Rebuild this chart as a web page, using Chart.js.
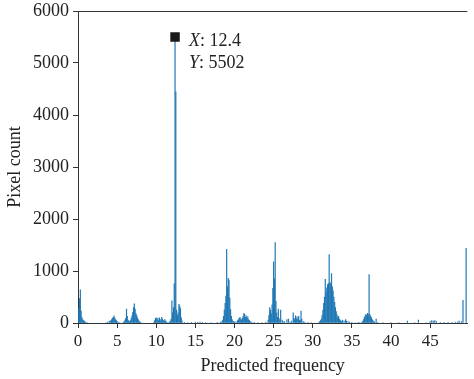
<!DOCTYPE html>
<html>
<head>
<meta charset="utf-8">
<script src="https://cdn.jsdelivr.net/npm/chart.js@4"></script>
<style>
  html, body { margin: 0; padding: 0; background: #fff; }
  #wrap { width: 474px; height: 379px; }
</style>
</head>
<body>
<div id="wrap"><canvas id="PixelHistogram"></canvas></div>
<script>
// Histogram bins (predicted frequency) and pixel counts
const freq = [
  0.0, 0.1, 0.2, 0.3, 0.4, 0.5, 0.6, 0.7, 0.8, 0.9, 1.0, 1.2,
  3.6, 3.8, 4.0, 4.1, 4.2, 4.3, 4.4, 4.5, 4.6, 4.7, 4.8, 4.9, 5.0, 5.1, 5.3,
  5.8, 5.9, 6.0, 6.1, 6.2, 6.3, 6.4, 6.5, 6.6, 6.7, 6.8, 6.9, 7.0, 7.1, 7.2, 7.3, 7.4, 7.5, 7.6, 7.7, 7.8, 7.9, 8.0,
  9.7, 9.8, 9.9, 10.0, 10.1, 10.2, 10.3, 10.4, 10.5, 10.6, 10.7, 10.8, 10.9, 11.0, 11.1, 11.2, 11.3, 11.5, 11.7,
  11.8, 11.9, 12.0, 12.1, 12.2, 12.3, 12.4, 12.5, 12.6, 12.7, 12.8, 12.9, 13.0, 13.1, 13.2, 13.3,
  13.6, 14.0, 14.5, 15.0, 15.3, 15.6, 15.9, 16.3, 17.0, 17.8, 18.2,
  18.4, 18.5, 18.6, 18.7, 18.8, 18.9, 19.0, 19.1, 19.2, 19.3, 19.4, 19.5, 19.6, 19.7, 19.8, 19.9, 20.0,
  20.2, 20.4, 20.5, 20.6, 20.7, 20.8, 20.9, 21.0, 21.1, 21.2, 21.3, 21.4, 21.5, 21.6, 21.7, 21.8, 21.9, 22.0, 22.2, 22.5, 23.0, 23.5, 24.0,
  24.3, 24.4, 24.5, 24.6, 24.7, 24.8, 24.9, 25.0, 25.1, 25.2, 25.3, 25.4, 25.5, 25.6, 25.7, 25.8, 25.9, 26.1, 26.2, 26.4, 26.7,
  26.9, 27.1, 27.3, 27.5, 27.6, 27.7, 27.8, 27.9, 28.0, 28.1, 28.2, 28.3, 28.4, 28.5, 28.6, 28.8, 29.0, 29.4, 29.8,
  30.8, 30.9, 31.0, 31.1, 31.2, 31.3, 31.4, 31.5, 31.6, 31.7, 31.8, 31.9, 32.0, 32.1, 32.2, 32.3, 32.4, 32.5, 32.6, 32.7,
  32.8, 32.9, 33.0, 33.1, 33.2, 33.3, 33.4, 33.5, 33.6, 33.7, 33.8, 34.0, 34.2, 34.3, 34.5, 34.7, 35.0, 35.4, 35.8, 36.0,
  36.3, 36.4, 36.5, 36.6, 36.7, 36.8, 36.9, 37.0, 37.1, 37.2, 37.3, 37.4, 37.5, 37.6, 37.7, 37.8, 37.9, 38.1, 38.3,
  39.0, 40.0, 41.0, 42.1, 43.0, 43.5, 44.5, 45.0, 45.2, 45.4, 45.6, 45.8, 46.3, 46.8, 47.3, 47.8, 48.2, 48.5, 48.7, 49.0, 49.2, 49.6
];
const count = [
  120, 280, 470, 640, 230, 110, 70, 50, 40, 25, 15, 10,
  10, 20, 30, 40, 50, 70, 90, 110, 140, 100, 70, 50, 30, 20, 10,
  15, 30, 60, 90, 270, 130, 60, 40, 30, 50, 90, 140, 210, 300, 370, 270, 190, 150, 100, 70, 40, 25, 15,
  20, 50, 90, 100, 60, 90, 50, 100, 70, 40, 110, 80, 50, 40, 70, 40, 20, 15, 20,
  40, 80, 430, 200, 300, 755, 5502, 4450, 250, 150, 200, 360, 330, 280, 100, 40,
  15, 10, 15, 20, 15, 20, 15, 10, 10, 15, 20,
  30, 60, 130, 250, 380, 520, 1420, 700, 860, 830, 480, 260, 130, 70, 40, 30, 20,
  30, 50, 70, 90, 110, 80, 60, 90, 130, 190, 170, 110, 140, 90, 120, 70, 50, 35, 20, 15, 10, 10, 20,
  60, 150, 300, 250, 180, 350, 670, 1180, 850, 1550, 420, 200, 110, 270, 90, 50, 250, 60, 30, 30, 70,
  80, 20, 40, 200, 90, 70, 140, 80, 120, 70, 130, 60, 50, 230, 80, 30, 20, 15, 10,
  20, 30, 50, 80, 150, 250, 380, 500, 840, 600, 680, 740, 760, 1320, 780, 760, 955, 700, 620, 500,
  400, 300, 220, 160, 110, 130, 80, 60, 40, 30, 60, 40, 70, 40, 30, 20, 15, 10, 15, 10,
  20, 40, 70, 110, 140, 170, 150, 190, 160, 935, 170, 130, 100, 70, 50, 30, 20, 80, 15,
  10, 10, 10, 40, 10, 60, 10, 30, 50, 40, 50, 30, 15, 15, 15, 15, 20, 20, 40, 30, 440, 1440
];

// Highlighted peak
const markerX = 12.4;
const markerY = 5502;

const xMax = 49.75;
const yMax = 6000;
const serif = '"Liberation Serif", "DejaVu Serif", serif';

// draws the "X: .. / Y: .." label next to the marker and the top spine
const markerLabel = {
  id: 'markerLabel',
  afterDatasetsDraw(chart) {
    const ctx = chart.ctx;
    const pt = chart.getDatasetMeta(0).data[0];
    const a = chart.chartArea;
    ctx.save();
    ctx.strokeStyle = '#333';
    ctx.lineWidth = 1;
    ctx.beginPath();
    ctx.moveTo(a.left, a.top + 0.5);
    ctx.lineTo(a.right, a.top + 0.5);
    ctx.stroke();

    ctx.fillStyle = '#222';
    ctx.textBaseline = 'middle';
    const lines = [['X', ': ' + markerX], ['Y', ': ' + markerY]];
    lines.forEach(([k, v], i) => {
      const x = pt.x + 14, y = pt.y + 4 + i * 22.7;
      ctx.font = 'italic 18px ' + serif;
      ctx.fillText(k, x, y);
      const w = ctx.measureText(k).width;
      ctx.font = '18px ' + serif;
      ctx.fillText(v, x + w, y);
    });
    ctx.restore();
  }
};

new Chart("PixelHistogram", {
  type: "bar",
  data: {
    datasets: [{
      type: "scatter",
      data: [{ x: markerX, y: markerY }],
      pointStyle: "rect",
      pointRadius: 6.7,
      backgroundColor: "#1a1a1a",
      borderWidth: 0
    }, {
      label: "Pixel count",
      data: freq.map((f, i) => ({ x: f, y: count[i] })),
      backgroundColor: "#1f77b4",
      borderWidth: 0,
      barPercentage: 1,
      categoryPercentage: 1,
      inflateAmount: 0.2
    }]
  },
  options: {
    animation: false,
    responsive: true,
    maintainAspectRatio: false,
    layout: { padding: { top: 11, left: 0, right: 0, bottom: 0 } },
    plugins: {
      legend: { display: false },
      tooltip: { enabled: false }
    },
    scales: {
      x: {
        type: "linear",
        min: 0,
        max: xMax,
        offset: false,
        afterFit: s => { s.height = 56; s.paddingLeft = 0; s.paddingRight = 0; },
        grid: { drawOnChartArea: false, offset: false, tickLength: 5, color: "#333" },
        border: { color: "#333", width: 1 },
        ticks: { stepSize: 5, includeBounds: false, padding: 3, color: "#222", font: { family: serif, size: 17 } },
        title: { display: true, text: "Predicted frequency", color: "#222", padding: { top: 0, bottom: 2 }, font: { family: serif, size: 18 } }
      },
      y: {
        min: 0,
        max: yMax,
        afterFit: s => { s.width = 78; s.paddingTop = 0; s.paddingBottom = 0; },
        grid: { drawOnChartArea: false, tickLength: 5, color: "#333" },
        border: { color: "#333", width: 1 },
        ticks: { stepSize: 1000, padding: 4, color: "#222", font: { family: serif, size: 18 }, callback: v => String(v) },
        title: { display: true, text: "Pixel count", color: "#222", padding: { top: 4, bottom: 0 }, font: { family: serif, size: 18 } }
      }
    }
  },
  plugins: [markerLabel]
});
</script>
</body>
</html>
